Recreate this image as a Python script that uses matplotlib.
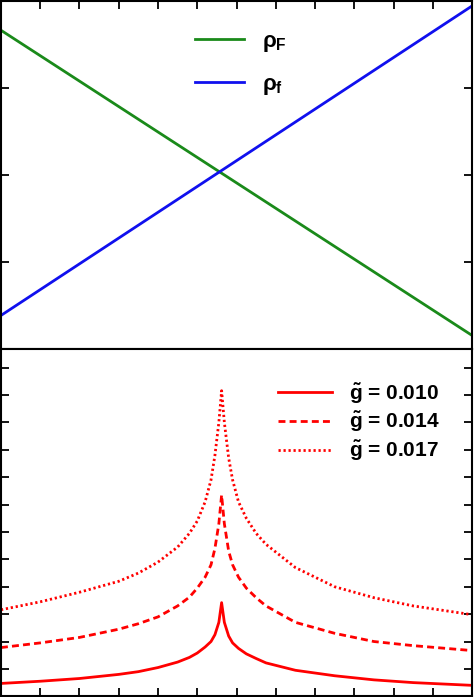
import matplotlib

matplotlib.use("Agg")
import matplotlib.pyplot as plt

plt.rcParams["font.family"] = ["Liberation Sans", "DejaVu Sans"]
plt.rcParams["mathtext.fontset"] = "custom"
plt.rcParams["mathtext.rm"] = "Liberation Sans:bold"
plt.rcParams["mathtext.it"] = "Liberation Sans:bold"
plt.rcParams["mathtext.bf"] = "Liberation Sans:bold"

# top panel: straight lines (end points)
x_top = [0, 12]
rho_F = [3.66, 0.15]
rho_f = [0.38, 3.94]

# bottom panel: curves with a cusp
x_bot = [0, 1, 2, 3, 3.5, 4, 4.5, 4.8, 5, 5.2, 5.35, 5.45, 5.55, 5.62,
         5.69, 5.8, 5.9, 6.05, 6.25, 6.5, 6.75, 7.5, 8.5, 9.5, 10.5, 12]
g010 = [0.47, 0.55, 0.65, 0.8, 0.9, 1.05, 1.25, 1.42, 1.58, 1.8, 2.0, 2.25, 2.7, 3.42,
        2.7, 2.2, 1.95, 1.75, 1.55, 1.38, 1.22, 0.95, 0.75, 0.6, 0.5, 0.4]
g014 = [1.78, 1.95, 2.15, 2.45, 2.65, 2.9, 3.3, 3.62, 3.95, 4.35, 4.8, 5.4, 6.3, 7.35,
        6.3, 5.3, 4.8, 4.35, 3.95, 3.6, 3.3, 2.7, 2.3, 2.0, 1.85, 1.67]
g017 = [3.16, 3.45, 3.8, 4.2, 4.5, 4.9, 5.45, 5.95, 6.4, 7.1, 7.9, 8.8, 10.0, 11.16,
        10.0, 8.7, 7.9, 7.1, 6.5, 5.95, 5.55, 4.7, 4.0, 3.6, 3.3, 2.98]

fig = plt.figure(figsize=(4.74, 6.97), dpi=100)
ax1 = fig.add_axes([0.002, 0.5, 0.994, 0.499])
ax2 = fig.add_axes([0.002, 0.001, 0.994, 0.499])

ax1.plot(x_top, rho_F, color="#1a8a1a", lw=2, label=r"$\rho_{\mathbf{F}}$")
ax1.plot(x_top, rho_f, color="#1010ee", lw=2, label=r"$\rho_{\mathbf{f}}$")
ax1.set_ylim(0, 4)
ax1.legend(loc="upper left", bbox_to_anchor=(0.37, 0.97), frameon=False,
           fontsize=16, handlelength=2.2, labelspacing=0.9)

ax2.plot(x_bot, g010, color="red", lw=2, label=r"$\tilde{g}$ = 0.010")
ax2.plot(x_bot, g014, color="red", lw=2, ls=(0, (2.5, 1.5)), label=r"$\tilde{g}$ = 0.014")
ax2.plot(x_bot, g017, color="red", lw=2, ls=(0, (0.8, 1.0)), label=r"$\tilde{g}$ = 0.017")
ax2.set_ylim(0, 12.7)
ax2.legend(loc="upper right", bbox_to_anchor=(0.97, 0.96), frameon=False,
           handlelength=2.6, labelspacing=0.2, prop={"weight": "bold", "size": 15})

for ax in (ax1, ax2):
    ax.set_xlim(0, 12)
    ax.set_xticks(range(1, 12))
    ax.set_yticks(range(1, int(ax.get_ylim()[1]) + 1))
    ax.tick_params(direction="in", length=6, width=1.3, top=True, right=True,
                   labelbottom=False, labelleft=False)
    for s in ax.spines.values():
        s.set_linewidth(1.5)
ax1.tick_params(bottom=False)
ax2.tick_params(top=False)

fig.savefig("out.png", dpi=100)
